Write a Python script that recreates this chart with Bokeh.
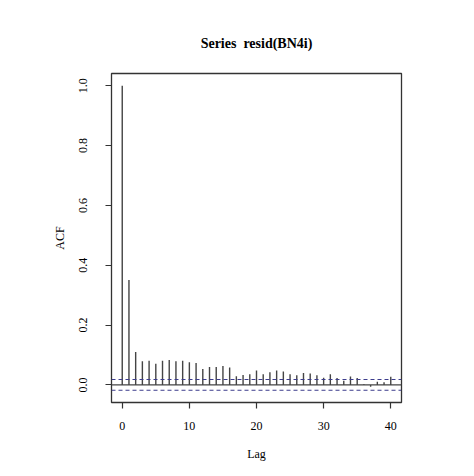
from bokeh.plotting import figure
from bokeh.models import FixedTicker, PrintfTickFormatter, Span, Range1d
from bokeh.embed import file_html
from bokeh.resources import INLINE

# ---- data ----
lags = list(range(41))
acf = [1.000, 0.351, 0.110, 0.079, 0.081, 0.071, 0.081, 0.083, 0.079, 0.081,
       0.076, 0.073, 0.053, 0.060, 0.060, 0.063, 0.058, 0.029, 0.033, 0.036,
       0.048, 0.036, 0.042, 0.048, 0.045, 0.036, 0.032, 0.040, 0.038, 0.032,
       0.024, 0.036, 0.023, 0.014, 0.028, 0.023, 0.002, -0.006, 0.011, 0.009,
       0.027]
ci = 0.018
x_ticks = [0, 10, 20, 30, 40]
y_ticks = [0.0, 0.2, 0.4, 0.6, 0.8, 1.0]
title_text = "Series \u00a0resid(BN4i)"
x_label = "Lag"
y_label = "ACF"

FONT = "Liberation Serif"

xlo, xhi = 0, 40
ylo, yhi = -ci, 1.0
xr = Range1d(xlo - 0.04 * (xhi - xlo), xhi + 0.04 * (xhi - xlo))
yr = Range1d(ylo - 0.04 * (yhi - ylo), yhi + 0.04 * (yhi - ylo))

p = figure(output_backend="svg", toolbar_location=None,
           frame_width=290, frame_height=329,
           x_range=xr, y_range=yr,
           min_border_left=111, min_border_right=57,
           min_border_top=73, min_border_bottom=58,
           title=title_text)

p.background_fill_color = "white"
p.border_fill_color = "white"
p.outline_line_color = "#333333"
p.outline_line_width = 1.3
p.xgrid.visible = False
p.ygrid.visible = False

p.title.text_font = FONT
p.title.text_font_style = "bold"
p.title.text_font_size = "14px"
p.title.align = "center"
p.title.text_color = "black"
p.title.standoff = 46

for ax in (p.xaxis[0], p.yaxis[0]):
    ax.axis_line_color = None
    ax.major_tick_line_color = "#333333"
    ax.major_tick_line_width = 1.2
    ax.major_tick_in = 0
    ax.major_tick_out = 6
    ax.minor_tick_line_color = None
    ax.major_label_text_font = FONT
    ax.major_label_text_font_size = "12px"
    ax.major_label_text_color = "black"
    ax.axis_label_text_font = FONT
    ax.axis_label_text_font_size = "12px"
    ax.axis_label_text_font_style = "normal"
    ax.axis_label_text_color = "black"

p.xaxis.ticker = FixedTicker(ticks=x_ticks)
p.yaxis.ticker = FixedTicker(ticks=y_ticks)
p.yaxis.formatter = PrintfTickFormatter(format="%.1f")
p.yaxis.major_label_orientation = "vertical"
p.xaxis.axis_label = x_label
p.yaxis.axis_label = y_label
p.xaxis.major_label_standoff = 13
p.xaxis.axis_label_standoff = 14
p.yaxis.major_label_standoff = 18
p.yaxis.axis_label_standoff = 10

p.segment(x0=lags, y0=[0] * len(lags), x1=lags, y1=acf,
          line_color="#444444", line_width=1.4)

p.add_layout(Span(location=0, dimension="width", line_color="#444444", line_width=1.3))
for loc in (ci, -ci):
    p.add_layout(Span(location=loc, dimension="width", line_color="#3c3c8c",
                      line_width=1.1, line_dash="4 3"))

open("out.html", "w").write(file_html(p, INLINE))
